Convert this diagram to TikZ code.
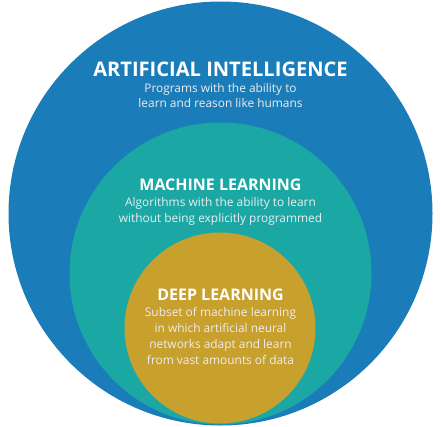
\documentclass[tikz,border=0pt]{standalone}
\usepackage{fontspec}
\setmainfont{Open Sans}
\definecolor{aiblue}{HTML}{1A7DB9}
\definecolor{mlteal}{HTML}{1BA8A5}
\definecolor{dlgold}{HTML}{C8A02D}
\begin{document}
\begin{tikzpicture}[x=1pt,y=-1pt,
  disc/.style={circle, inner sep=0pt, draw=none},
  ttl/.style={anchor=base, text=white, inner sep=0pt, font=\bfseries\fontsize{#1}{#1}\selectfont},
  bod/.style={anchor=base, text=white!93!black, inner sep=0pt, font=\fontsize{#1}{#1}\selectfont}]
\useasboundingbox (0,0) rectangle (441,426);
\fill[white] (0,0) rectangle (441,426);
\node[disc, fill=aiblue, minimum size=424pt] (ai) at (220.5,213.5) {};
\node[disc, fill=mlteal, minimum size=302pt] (ml) at (220.5,273.5) {};
\node[disc, fill=dlgold, minimum size=191pt] (dl) at (220,328) {};
% AI
\node[ttl=20.1] (aititle) at (220.5,76.7) {ARTIFICIAL INTELLIGENCE};
\node[bod=11.9] (aib1) at (220.5,92) {Programs with the ability to};
\node[bod=11.9] (aib2) at (220.5,107.5) {learn and reason like humans};
% ML
\node[ttl=16] (mltitle) at (220.5,190) {MACHINE LEARNING};
\node[bod=11.9] (mlb1) at (220.5,206) {Algorithms with the ability to learn};
\node[bod=11.9] (mlb2) at (220.5,222) {without being explicitly programmed};
% DL
\node[ttl=16] (dltitle) at (220.5,300.7) {DEEP LEARNING};
\node[bod=11.9] (dlb1) at (220.5,316.7) {Subset of machine learning};
\node[bod=11.9] (dlb2) at (220.5,332.7) {in which artificial neural};
\node[bod=11.9] (dlb3) at (220.5,348.7) {networks adapt and learn};
\node[bod=11.9] (dlb4) at (220.5,364.5) {from vast amounts of data};
\end{tikzpicture}
\end{document}
